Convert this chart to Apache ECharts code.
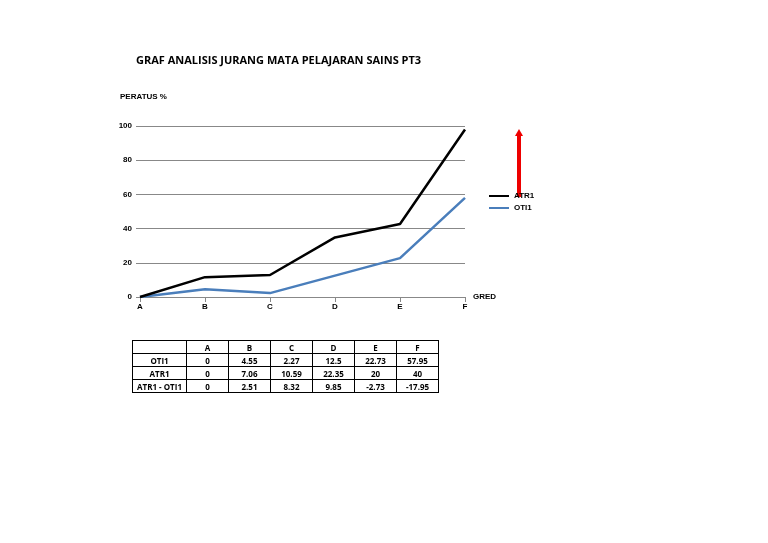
<!DOCTYPE html>
<html>
<head>
<meta charset="utf-8">
<script src="https://cdn.jsdelivr.net/npm/echarts@6/dist/echarts.min.js"></script>
<style>
body{margin:0;background:#fff;font-family:"Open Sans",sans-serif;}
#chart{position:absolute;left:0;top:0;width:768px;height:543px;}
table{position:absolute;left:132px;top:340px;border-collapse:collapse;font-size:8px;font-weight:bold;}
td{border:1px solid #000;height:12px;width:41px;text-align:center;padding:0;}
td.h{width:53px;}
</style>
</head>
<body>
<div id="chart"></div>
<table id="tbl"></table>
<script>
var grades=['A','B','C','D','E','F'];
var oti1=[0,4.55,2.27,12.5,22.73,57.95];
var atr1=[0,7.06,10.59,22.35,20,40];
var beza=[0,2.51,8.32,9.85,-2.73,-17.95];

// table
var rows=[['',grades],['OTI1',oti1],['ATR1',atr1],['ATR1 - OTI1',beza]];
var html='';
rows.forEach(function(r){
	html+='<tr><td class="h">'+r[0]+'</td>';
	r[1].forEach(function(v){html+='<td>'+v+'</td>';});
	html+='</tr>';
});
document.getElementById('tbl').innerHTML=html;

var myChart=echarts.init(document.getElementById('chart'));
var lbl={fontSize:8,fontWeight:'bold',color:'#000'};
myChart.setOption({
	title:{text:'GRAF ANALISIS JURANG MATA PELAJARAN SAINS PT3',left:131,top:50,
		textStyle:{fontSize:11,fontWeight:'bold',color:'#000',fontFamily:'Open Sans'}},
	legend:{orient:'vertical',left:484,top:187,itemWidth:20,itemHeight:2,itemGap:4,icon:'rect',
		textStyle:{fontSize:8,fontWeight:'bold',color:'#000'},data:['ATR1','OTI1']},
	grid:{left:140,right:303,top:126,bottom:246},
	xAxis:{type:'category',boundaryGap:false,data:grades,name:'GRED',nameGap:8,
		nameTextStyle:lbl,
		axisLine:{lineStyle:{color:'#888'}},axisTick:{show:true,lineStyle:{color:'#888'}},
		axisLabel:Object.assign({margin:6},lbl)},
	yAxis:{type:'value',min:0,max:100,interval:20,name:'PERATUS %',nameGap:25,
		nameTextStyle:Object.assign({align:'left',padding:[0,0,0,-20]},lbl),
		axisLine:{show:false},axisTick:{show:true,length:4,lineStyle:{color:'#888'}},
		splitLine:{lineStyle:{color:'#888'}},axisLabel:lbl},
	series:[
		{name:'OTI1',type:'line',stack:'a',data:oti1,symbol:'none',lineStyle:{color:'#4a7ebb',width:2.5},itemStyle:{color:'#4a7ebb'}},
		{name:'ATR1',type:'line',stack:'a',data:atr1,symbol:'none',lineStyle:{color:'#000',width:2.5},itemStyle:{color:'#000'}}
	],
	graphic:[
		{type:'line',shape:{x1:519,y1:197,x2:519,y2:135},style:{stroke:'#ee0000',lineWidth:4}},
		{type:'polygon',shape:{points:[[515,136],[523,136],[519,129]]},style:{fill:'#ee0000'}}
	]
});
</script>
</body>
</html>
